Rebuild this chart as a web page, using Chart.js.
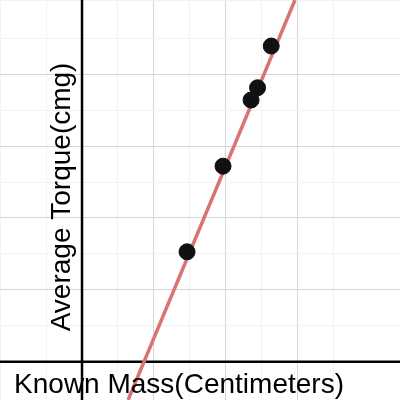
<!DOCTYPE html>
<html>
<head>
<script src="https://cdn.jsdelivr.net/npm/chart.js@4"></script>
<style>
  html, body { margin: 0; padding: 0; background: #fff; }
  #wrap { width: 400px; height: 400px; }
</style>
</head>
<body>
<div id="wrap"><canvas id="c"></canvas></div>
<script>
// ==============================
// DATA
// ==============================
const massX   = [1.46, 1.96, 2.35, 2.44, 2.63];
const torqueY = [1.53, 2.72, 3.64, 3.81, 4.39];
const fitX    = [0.64, 2.96];
const fitY    = [-0.53, 5.03];
const xLabel  = "Known Mass(Centimeters)";
const yLabel  = "Average Torque(cmg)";

// ==============================
// AXES + LABELS PLUGIN
// ==============================
const axesPlugin = {
    id: "axes",
    beforeDatasetsDraw(chart){
        const { ctx, scales: { x, y } } = chart;
        const x0 = x.getPixelForValue(0), y0 = y.getPixelForValue(0);
        ctx.save();
        ctx.strokeStyle = "#000";
        ctx.lineWidth = 2.5;
        ctx.beginPath();
        ctx.moveTo(x0, 0); ctx.lineTo(x0, chart.height);
        ctx.moveTo(0, y0); ctx.lineTo(chart.width, y0);
        ctx.stroke();
        ctx.restore();
    },
    afterDatasetsDraw(chart){
        const { ctx, scales: { x, y } } = chart;
        const x0 = x.getPixelForValue(0), y0 = y.getPixelForValue(0);
        ctx.save();
        ctx.fillStyle = "#000";
        ctx.font = "28px 'Liberation Sans', Arial, sans-serif";
        ctx.textAlign = "center";
        ctx.textBaseline = "alphabetic";
        ctx.fillText(xLabel, x0 + 97, y0 + 31);
        ctx.translate(x0 - 12, y0 / 2 + 16);
        ctx.rotate(-Math.PI / 2);
        ctx.fillText(yLabel, 0, 0);
        ctx.restore();
    }
};

const gridColor = ctx => (ctx.tick && Math.abs(ctx.tick.value % 1) < 1e-6) ? "#d6d6d6" : "#f2f2f2";

// ==============================
// CHART
// ==============================
new Chart(document.getElementById("c"), {
    type: "scatter",
    data: {
        datasets: [
            {
                data: massX.map((v, i) => ({ x: v, y: torqueY[i] })),
                backgroundColor: "#111",
                borderColor: "#111",
                pointRadius: 8,
                order: 1
            },
            {
                type: "line",
                data: fitX.map((v, i) => ({ x: v, y: fitY[i] })),
                borderColor: "#d87474",
                borderWidth: 3.5,
                pointRadius: 0,
                order: 2
            }
        ]
    },
    options: {
        animation: false,
        responsive: true,
        maintainAspectRatio: false,
        layout: { padding: 0, autoPadding: false },
        plugins: { legend: { display: false }, tooltip: { enabled: false } },
        scales: {
            x: {
                type: "linear", min: -1.14, max: 4.42,
                ticks: { display: false, stepSize: 0.5 },
                grid: { color: gridColor, drawTicks: false },
                border: { display: false }
            },
            y: {
                type: "linear", min: -0.53, max: 5.03,
                ticks: { display: false, stepSize: 0.5 },
                grid: { color: gridColor, drawTicks: false },
                border: { display: false }
            }
        }
    },
    plugins: [axesPlugin]
});
</script>
</body>
</html>
